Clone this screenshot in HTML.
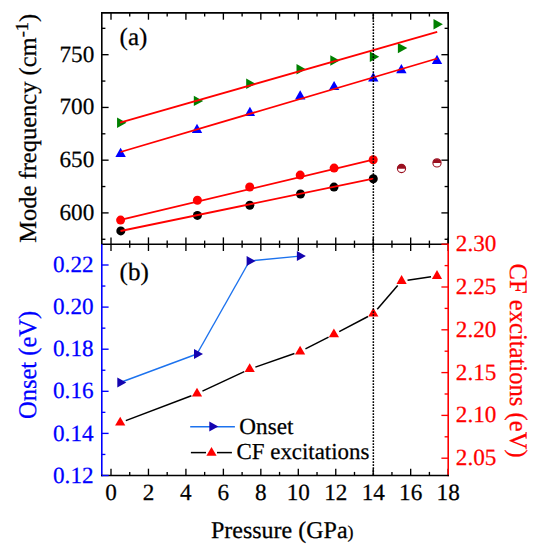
<!DOCTYPE html>
<html><head><meta charset="utf-8"><style>
html,body{margin:0;padding:0;background:#fff;}
svg{display:block;}
text{font-family:"Liberation Serif", serif; text-rendering:geometricPrecision;}
</style></head><body>
<svg width="542" height="550" viewBox="0 0 542 550">
<rect width="542" height="550" fill="#fff"/>
<line x1="111.00" y1="12.90" x2="111.00" y2="19.70" stroke="#000" stroke-width="1.35" />
<line x1="111.00" y1="244.20" x2="111.00" y2="237.40" stroke="#000" stroke-width="1.35" />
<line x1="111.00" y1="244.20" x2="111.00" y2="251.00" stroke="#000" stroke-width="1.35" />
<line x1="111.00" y1="475.50" x2="111.00" y2="468.70" stroke="#000" stroke-width="1.35" />
<line x1="129.73" y1="12.90" x2="129.73" y2="16.50" stroke="#000" stroke-width="1.35" />
<line x1="129.73" y1="244.20" x2="129.73" y2="240.60" stroke="#000" stroke-width="1.35" />
<line x1="129.73" y1="244.20" x2="129.73" y2="247.80" stroke="#000" stroke-width="1.35" />
<line x1="129.73" y1="475.50" x2="129.73" y2="471.90" stroke="#000" stroke-width="1.35" />
<line x1="148.46" y1="12.90" x2="148.46" y2="19.70" stroke="#000" stroke-width="1.35" />
<line x1="148.46" y1="244.20" x2="148.46" y2="237.40" stroke="#000" stroke-width="1.35" />
<line x1="148.46" y1="244.20" x2="148.46" y2="251.00" stroke="#000" stroke-width="1.35" />
<line x1="148.46" y1="475.50" x2="148.46" y2="468.70" stroke="#000" stroke-width="1.35" />
<line x1="167.19" y1="12.90" x2="167.19" y2="16.50" stroke="#000" stroke-width="1.35" />
<line x1="167.19" y1="244.20" x2="167.19" y2="240.60" stroke="#000" stroke-width="1.35" />
<line x1="167.19" y1="244.20" x2="167.19" y2="247.80" stroke="#000" stroke-width="1.35" />
<line x1="167.19" y1="475.50" x2="167.19" y2="471.90" stroke="#000" stroke-width="1.35" />
<line x1="185.92" y1="12.90" x2="185.92" y2="19.70" stroke="#000" stroke-width="1.35" />
<line x1="185.92" y1="244.20" x2="185.92" y2="237.40" stroke="#000" stroke-width="1.35" />
<line x1="185.92" y1="244.20" x2="185.92" y2="251.00" stroke="#000" stroke-width="1.35" />
<line x1="185.92" y1="475.50" x2="185.92" y2="468.70" stroke="#000" stroke-width="1.35" />
<line x1="204.65" y1="12.90" x2="204.65" y2="16.50" stroke="#000" stroke-width="1.35" />
<line x1="204.65" y1="244.20" x2="204.65" y2="240.60" stroke="#000" stroke-width="1.35" />
<line x1="204.65" y1="244.20" x2="204.65" y2="247.80" stroke="#000" stroke-width="1.35" />
<line x1="204.65" y1="475.50" x2="204.65" y2="471.90" stroke="#000" stroke-width="1.35" />
<line x1="223.38" y1="12.90" x2="223.38" y2="19.70" stroke="#000" stroke-width="1.35" />
<line x1="223.38" y1="244.20" x2="223.38" y2="237.40" stroke="#000" stroke-width="1.35" />
<line x1="223.38" y1="244.20" x2="223.38" y2="251.00" stroke="#000" stroke-width="1.35" />
<line x1="223.38" y1="475.50" x2="223.38" y2="468.70" stroke="#000" stroke-width="1.35" />
<line x1="242.11" y1="12.90" x2="242.11" y2="16.50" stroke="#000" stroke-width="1.35" />
<line x1="242.11" y1="244.20" x2="242.11" y2="240.60" stroke="#000" stroke-width="1.35" />
<line x1="242.11" y1="244.20" x2="242.11" y2="247.80" stroke="#000" stroke-width="1.35" />
<line x1="242.11" y1="475.50" x2="242.11" y2="471.90" stroke="#000" stroke-width="1.35" />
<line x1="260.84" y1="12.90" x2="260.84" y2="19.70" stroke="#000" stroke-width="1.35" />
<line x1="260.84" y1="244.20" x2="260.84" y2="237.40" stroke="#000" stroke-width="1.35" />
<line x1="260.84" y1="244.20" x2="260.84" y2="251.00" stroke="#000" stroke-width="1.35" />
<line x1="260.84" y1="475.50" x2="260.84" y2="468.70" stroke="#000" stroke-width="1.35" />
<line x1="279.57" y1="12.90" x2="279.57" y2="16.50" stroke="#000" stroke-width="1.35" />
<line x1="279.57" y1="244.20" x2="279.57" y2="240.60" stroke="#000" stroke-width="1.35" />
<line x1="279.57" y1="244.20" x2="279.57" y2="247.80" stroke="#000" stroke-width="1.35" />
<line x1="279.57" y1="475.50" x2="279.57" y2="471.90" stroke="#000" stroke-width="1.35" />
<line x1="298.30" y1="12.90" x2="298.30" y2="19.70" stroke="#000" stroke-width="1.35" />
<line x1="298.30" y1="244.20" x2="298.30" y2="237.40" stroke="#000" stroke-width="1.35" />
<line x1="298.30" y1="244.20" x2="298.30" y2="251.00" stroke="#000" stroke-width="1.35" />
<line x1="298.30" y1="475.50" x2="298.30" y2="468.70" stroke="#000" stroke-width="1.35" />
<line x1="317.03" y1="12.90" x2="317.03" y2="16.50" stroke="#000" stroke-width="1.35" />
<line x1="317.03" y1="244.20" x2="317.03" y2="240.60" stroke="#000" stroke-width="1.35" />
<line x1="317.03" y1="244.20" x2="317.03" y2="247.80" stroke="#000" stroke-width="1.35" />
<line x1="317.03" y1="475.50" x2="317.03" y2="471.90" stroke="#000" stroke-width="1.35" />
<line x1="335.76" y1="12.90" x2="335.76" y2="19.70" stroke="#000" stroke-width="1.35" />
<line x1="335.76" y1="244.20" x2="335.76" y2="237.40" stroke="#000" stroke-width="1.35" />
<line x1="335.76" y1="244.20" x2="335.76" y2="251.00" stroke="#000" stroke-width="1.35" />
<line x1="335.76" y1="475.50" x2="335.76" y2="468.70" stroke="#000" stroke-width="1.35" />
<line x1="354.49" y1="12.90" x2="354.49" y2="16.50" stroke="#000" stroke-width="1.35" />
<line x1="354.49" y1="244.20" x2="354.49" y2="240.60" stroke="#000" stroke-width="1.35" />
<line x1="354.49" y1="244.20" x2="354.49" y2="247.80" stroke="#000" stroke-width="1.35" />
<line x1="354.49" y1="475.50" x2="354.49" y2="471.90" stroke="#000" stroke-width="1.35" />
<line x1="373.22" y1="12.90" x2="373.22" y2="19.70" stroke="#000" stroke-width="1.35" />
<line x1="373.22" y1="244.20" x2="373.22" y2="237.40" stroke="#000" stroke-width="1.35" />
<line x1="373.22" y1="244.20" x2="373.22" y2="251.00" stroke="#000" stroke-width="1.35" />
<line x1="373.22" y1="475.50" x2="373.22" y2="468.70" stroke="#000" stroke-width="1.35" />
<line x1="391.95" y1="12.90" x2="391.95" y2="16.50" stroke="#000" stroke-width="1.35" />
<line x1="391.95" y1="244.20" x2="391.95" y2="240.60" stroke="#000" stroke-width="1.35" />
<line x1="391.95" y1="244.20" x2="391.95" y2="247.80" stroke="#000" stroke-width="1.35" />
<line x1="391.95" y1="475.50" x2="391.95" y2="471.90" stroke="#000" stroke-width="1.35" />
<line x1="410.68" y1="12.90" x2="410.68" y2="19.70" stroke="#000" stroke-width="1.35" />
<line x1="410.68" y1="244.20" x2="410.68" y2="237.40" stroke="#000" stroke-width="1.35" />
<line x1="410.68" y1="244.20" x2="410.68" y2="251.00" stroke="#000" stroke-width="1.35" />
<line x1="410.68" y1="475.50" x2="410.68" y2="468.70" stroke="#000" stroke-width="1.35" />
<line x1="429.41" y1="12.90" x2="429.41" y2="16.50" stroke="#000" stroke-width="1.35" />
<line x1="429.41" y1="244.20" x2="429.41" y2="240.60" stroke="#000" stroke-width="1.35" />
<line x1="429.41" y1="244.20" x2="429.41" y2="247.80" stroke="#000" stroke-width="1.35" />
<line x1="429.41" y1="475.50" x2="429.41" y2="471.90" stroke="#000" stroke-width="1.35" />
<line x1="448.14" y1="12.90" x2="448.14" y2="19.70" stroke="#000" stroke-width="1.35" />
<line x1="448.14" y1="244.20" x2="448.14" y2="237.40" stroke="#000" stroke-width="1.35" />
<line x1="448.14" y1="244.20" x2="448.14" y2="251.00" stroke="#000" stroke-width="1.35" />
<line x1="448.14" y1="475.50" x2="448.14" y2="468.70" stroke="#000" stroke-width="1.35" />
<line x1="101.80" y1="239.27" x2="105.40" y2="239.27" stroke="#000" stroke-width="1.35" />
<line x1="448.20" y1="239.27" x2="444.60" y2="239.27" stroke="#000" stroke-width="1.35" />
<line x1="101.80" y1="212.90" x2="108.60" y2="212.90" stroke="#000" stroke-width="1.35" />
<line x1="448.20" y1="212.90" x2="441.40" y2="212.90" stroke="#000" stroke-width="1.35" />
<line x1="101.80" y1="186.54" x2="105.40" y2="186.54" stroke="#000" stroke-width="1.35" />
<line x1="448.20" y1="186.54" x2="444.60" y2="186.54" stroke="#000" stroke-width="1.35" />
<line x1="101.80" y1="160.17" x2="108.60" y2="160.17" stroke="#000" stroke-width="1.35" />
<line x1="448.20" y1="160.17" x2="441.40" y2="160.17" stroke="#000" stroke-width="1.35" />
<line x1="101.80" y1="133.80" x2="105.40" y2="133.80" stroke="#000" stroke-width="1.35" />
<line x1="448.20" y1="133.80" x2="444.60" y2="133.80" stroke="#000" stroke-width="1.35" />
<line x1="101.80" y1="107.44" x2="108.60" y2="107.44" stroke="#000" stroke-width="1.35" />
<line x1="448.20" y1="107.44" x2="441.40" y2="107.44" stroke="#000" stroke-width="1.35" />
<line x1="101.80" y1="81.07" x2="105.40" y2="81.07" stroke="#000" stroke-width="1.35" />
<line x1="448.20" y1="81.07" x2="444.60" y2="81.07" stroke="#000" stroke-width="1.35" />
<line x1="101.80" y1="54.70" x2="108.60" y2="54.70" stroke="#000" stroke-width="1.35" />
<line x1="448.20" y1="54.70" x2="441.40" y2="54.70" stroke="#000" stroke-width="1.35" />
<line x1="101.80" y1="28.33" x2="105.40" y2="28.33" stroke="#000" stroke-width="1.35" />
<line x1="448.20" y1="28.33" x2="444.60" y2="28.33" stroke="#000" stroke-width="1.35" />
<line x1="101.00" y1="12.90" x2="449.00" y2="12.90" stroke="#000" stroke-width="1.6" />
<line x1="101.80" y1="12.90" x2="101.80" y2="244.20" stroke="#000" stroke-width="1.6" />
<line x1="448.20" y1="12.90" x2="448.20" y2="244.20" stroke="#000" stroke-width="1.6" />
<line x1="101.00" y1="244.20" x2="449.00" y2="244.20" stroke="#000" stroke-width="1.6" />
<line x1="101.80" y1="244.20" x2="101.80" y2="476.30" stroke="#0000ff" stroke-width="1.6" />
<line x1="448.20" y1="243.40" x2="448.20" y2="476.30" stroke="#ff0000" stroke-width="1.6" />
<line x1="101.00" y1="475.50" x2="449.00" y2="475.50" stroke="#000" stroke-width="1.6" />
<line x1="101.80" y1="475.50" x2="108.60" y2="475.50" stroke="#0000ff" stroke-width="1.35" />
<line x1="101.80" y1="454.45" x2="105.40" y2="454.45" stroke="#0000ff" stroke-width="1.35" />
<line x1="101.80" y1="433.40" x2="108.60" y2="433.40" stroke="#0000ff" stroke-width="1.35" />
<line x1="101.80" y1="412.35" x2="105.40" y2="412.35" stroke="#0000ff" stroke-width="1.35" />
<line x1="101.80" y1="391.30" x2="108.60" y2="391.30" stroke="#0000ff" stroke-width="1.35" />
<line x1="101.80" y1="370.25" x2="105.40" y2="370.25" stroke="#0000ff" stroke-width="1.35" />
<line x1="101.80" y1="349.20" x2="108.60" y2="349.20" stroke="#0000ff" stroke-width="1.35" />
<line x1="101.80" y1="328.15" x2="105.40" y2="328.15" stroke="#0000ff" stroke-width="1.35" />
<line x1="101.80" y1="307.10" x2="108.60" y2="307.10" stroke="#0000ff" stroke-width="1.35" />
<line x1="101.80" y1="286.05" x2="105.40" y2="286.05" stroke="#0000ff" stroke-width="1.35" />
<line x1="101.80" y1="265.00" x2="108.60" y2="265.00" stroke="#0000ff" stroke-width="1.35" />
<line x1="448.20" y1="458.20" x2="441.40" y2="458.20" stroke="#ff0000" stroke-width="1.35" />
<line x1="448.20" y1="436.80" x2="444.60" y2="436.80" stroke="#ff0000" stroke-width="1.35" />
<line x1="448.20" y1="415.40" x2="441.40" y2="415.40" stroke="#ff0000" stroke-width="1.35" />
<line x1="448.20" y1="394.00" x2="444.60" y2="394.00" stroke="#ff0000" stroke-width="1.35" />
<line x1="448.20" y1="372.60" x2="441.40" y2="372.60" stroke="#ff0000" stroke-width="1.35" />
<line x1="448.20" y1="351.20" x2="444.60" y2="351.20" stroke="#ff0000" stroke-width="1.35" />
<line x1="448.20" y1="329.80" x2="441.40" y2="329.80" stroke="#ff0000" stroke-width="1.35" />
<line x1="448.20" y1="308.40" x2="444.60" y2="308.40" stroke="#ff0000" stroke-width="1.35" />
<line x1="448.20" y1="287.00" x2="441.40" y2="287.00" stroke="#ff0000" stroke-width="1.35" />
<line x1="448.20" y1="265.60" x2="444.60" y2="265.60" stroke="#ff0000" stroke-width="1.35" />
<line x1="448.20" y1="244.20" x2="441.40" y2="244.20" stroke="#ff0000" stroke-width="1.35" />
<polygon points="117.05,117.60 126.45,122.80 117.05,128.00" fill="#008000"/>
<polygon points="193.80,95.70 203.20,100.90 193.80,106.10" fill="#008000"/>
<polygon points="246.20,78.60 255.60,83.80 246.20,89.00" fill="#008000"/>
<polygon points="296.50,64.00 305.90,69.20 296.50,74.40" fill="#008000"/>
<polygon points="330.30,55.30 339.70,60.50 330.30,65.70" fill="#008000"/>
<polygon points="369.80,51.50 379.20,56.70 369.80,61.90" fill="#008000"/>
<polygon points="397.90,42.90 407.30,48.10 397.90,53.30" fill="#008000"/>
<polygon points="433.50,19.10 442.90,24.30 433.50,29.50" fill="#008000"/>
<polygon points="115.40,157.00 120.60,147.80 125.80,157.00" fill="#0000ff"/>
<polygon points="191.80,132.90 197.00,123.70 202.20,132.90" fill="#0000ff"/>
<polygon points="244.70,115.90 249.90,106.70 255.10,115.90" fill="#0000ff"/>
<polygon points="295.00,99.50 300.20,90.30 305.40,99.50" fill="#0000ff"/>
<polygon points="328.90,90.10 334.10,80.90 339.30,90.10" fill="#0000ff"/>
<polygon points="368.10,81.40 373.30,72.20 378.50,81.40" fill="#0000ff"/>
<polygon points="396.20,73.20 401.40,64.00 406.60,73.20" fill="#0000ff"/>
<polygon points="431.80,64.00 437.00,54.80 442.20,64.00" fill="#0000ff"/>
<circle cx="120.60" cy="220.10" r="4.5" fill="#ff0000"/>
<circle cx="197.40" cy="200.30" r="4.5" fill="#ff0000"/>
<circle cx="249.70" cy="187.00" r="4.5" fill="#ff0000"/>
<circle cx="300.20" cy="175.10" r="4.5" fill="#ff0000"/>
<circle cx="334.10" cy="168.10" r="4.5" fill="#ff0000"/>
<circle cx="373.20" cy="159.70" r="4.5" fill="#ff0000"/>
<circle cx="120.80" cy="230.90" r="4.5" fill="#000"/>
<circle cx="197.40" cy="215.40" r="4.5" fill="#000"/>
<circle cx="249.80" cy="205.20" r="4.5" fill="#000"/>
<circle cx="300.50" cy="194.00" r="4.5" fill="#000"/>
<circle cx="334.00" cy="187.10" r="4.5" fill="#000"/>
<circle cx="373.30" cy="178.70" r="4.5" fill="#000"/>
<circle cx="401.5" cy="168.5" r="4.1" fill="#fff" stroke="#9a1020" stroke-width="1.1"/>
<path d="M397.40,168.70 A4.1,4.1 0 0 1 405.60,168.70 Z" fill="#9a1020"/>
<circle cx="437" cy="162.9" r="4.1" fill="#fff" stroke="#9a1020" stroke-width="1.1"/>
<path d="M432.90,163.10 A4.1,4.1 0 0 1 441.10,163.10 Z" fill="#9a1020"/>
<line x1="120.00" y1="122.70" x2="437.20" y2="31.80" stroke="#ff0000" stroke-width="1.8" />
<line x1="120.50" y1="152.00" x2="437.20" y2="58.50" stroke="#ff0000" stroke-width="1.8" />
<line x1="120.50" y1="219.90" x2="373.30" y2="159.60" stroke="#ff0000" stroke-width="1.8" />
<line x1="120.50" y1="231.00" x2="373.30" y2="178.70" stroke="#ff0000" stroke-width="1.8" />
<line x1="120.25" y1="382.50" x2="196.95" y2="354.00" stroke="#1c72ee" stroke-width="1.4" />
<line x1="196.95" y1="354.00" x2="249.55" y2="261.00" stroke="#1c72ee" stroke-width="1.4" />
<line x1="249.55" y1="261.00" x2="299.85" y2="256.10" stroke="#1c72ee" stroke-width="1.4" />
<polygon points="117.30,377.50 126.30,382.50 117.30,387.50" fill="#1404b0"/>
<polygon points="194.00,349.00 203.00,354.00 194.00,359.00" fill="#1404b0"/>
<polygon points="246.60,256.00 255.60,261.00 246.60,266.00" fill="#1404b0"/>
<polygon points="296.90,251.10 305.90,256.10 296.90,261.10" fill="#1404b0"/>
<line x1="125.81" y1="420.58" x2="191.39" y2="395.82" stroke="#000" stroke-width="1.5" />
<line x1="202.44" y1="391.16" x2="244.26" y2="371.64" stroke="#000" stroke-width="1.5" />
<line x1="255.37" y1="367.13" x2="294.43" y2="353.57" stroke="#000" stroke-width="1.5" />
<line x1="305.45" y1="348.88" x2="328.55" y2="337.12" stroke="#000" stroke-width="1.5" />
<line x1="339.21" y1="331.61" x2="367.99" y2="316.49" stroke="#000" stroke-width="1.5" />
<line x1="377.23" y1="309.16" x2="397.67" y2="285.54" stroke="#000" stroke-width="1.5" />
<line x1="407.54" y1="280.16" x2="431.06" y2="276.84" stroke="#000" stroke-width="1.5" />
<polygon points="115.10,425.60 120.20,416.80 125.30,425.60" fill="#ff0000"/>
<polygon points="191.90,396.60 197.00,387.80 202.10,396.60" fill="#ff0000"/>
<polygon points="244.60,372.00 249.70,363.20 254.80,372.00" fill="#ff0000"/>
<polygon points="295.00,354.50 300.10,345.70 305.20,354.50" fill="#ff0000"/>
<polygon points="328.80,337.30 333.90,328.50 339.00,337.30" fill="#ff0000"/>
<polygon points="368.20,316.60 373.30,307.80 378.40,316.60" fill="#ff0000"/>
<polygon points="396.50,283.90 401.60,275.10 406.70,283.90" fill="#ff0000"/>
<polygon points="431.90,278.90 437.00,270.10 442.10,278.90" fill="#ff0000"/>
<line x1="373.35" y1="12.90" x2="373.35" y2="475.50" stroke="#000" stroke-width="1.5" stroke-dasharray="1.8 1.2" stroke-dashoffset="1.7"/>
<line x1="190.20" y1="426.70" x2="234.90" y2="426.70" stroke="#1c72ee" stroke-width="1.4" />
<polygon points="209.30,421.60 218.30,426.60 209.30,431.60" fill="#1404b0"/>
<line x1="190.90" y1="452.60" x2="206.00" y2="452.60" stroke="#000" stroke-width="1.5" />
<line x1="217.00" y1="452.60" x2="231.90" y2="452.60" stroke="#000" stroke-width="1.5" />
<polygon points="206.40,455.80 211.50,447.00 216.60,455.80" fill="#ff0000"/>
<text transform="translate(94.30,219.90) scale(1,1.0)" font-size="23.2" fill="#000" stroke="#000" stroke-width="0.25" text-anchor="end" >600</text>
<text transform="translate(94.30,167.17) scale(1,1.0)" font-size="23.2" fill="#000" stroke="#000" stroke-width="0.25" text-anchor="end" >650</text>
<text transform="translate(94.30,114.44) scale(1,1.0)" font-size="23.2" fill="#000" stroke="#000" stroke-width="0.25" text-anchor="end" >700</text>
<text transform="translate(94.30,61.70) scale(1,1.0)" font-size="23.2" fill="#000" stroke="#000" stroke-width="0.25" text-anchor="end" >750</text>
<text transform="translate(93.60,482.60) scale(1,1.0)" font-size="23.2" fill="#0000ff" stroke="#0000ff" stroke-width="0.25" text-anchor="end" >0.12</text>
<text transform="translate(93.60,440.50) scale(1,1.0)" font-size="23.2" fill="#0000ff" stroke="#0000ff" stroke-width="0.25" text-anchor="end" >0.14</text>
<text transform="translate(93.60,398.40) scale(1,1.0)" font-size="23.2" fill="#0000ff" stroke="#0000ff" stroke-width="0.25" text-anchor="end" >0.16</text>
<text transform="translate(93.60,356.30) scale(1,1.0)" font-size="23.2" fill="#0000ff" stroke="#0000ff" stroke-width="0.25" text-anchor="end" >0.18</text>
<text transform="translate(93.60,314.20) scale(1,1.0)" font-size="23.2" fill="#0000ff" stroke="#0000ff" stroke-width="0.25" text-anchor="end" >0.20</text>
<text transform="translate(93.60,272.10) scale(1,1.0)" font-size="23.2" fill="#0000ff" stroke="#0000ff" stroke-width="0.25" text-anchor="end" >0.22</text>
<text transform="translate(455.80,465.10) scale(1,1.0)" font-size="23.2" fill="#ff0000" stroke="#ff0000" stroke-width="0.25" text-anchor="start" >2.05</text>
<text transform="translate(455.80,422.30) scale(1,1.0)" font-size="23.2" fill="#ff0000" stroke="#ff0000" stroke-width="0.25" text-anchor="start" >2.10</text>
<text transform="translate(455.80,379.50) scale(1,1.0)" font-size="23.2" fill="#ff0000" stroke="#ff0000" stroke-width="0.25" text-anchor="start" >2.15</text>
<text transform="translate(455.80,336.70) scale(1,1.0)" font-size="23.2" fill="#ff0000" stroke="#ff0000" stroke-width="0.25" text-anchor="start" >2.20</text>
<text transform="translate(455.80,293.90) scale(1,1.0)" font-size="23.2" fill="#ff0000" stroke="#ff0000" stroke-width="0.25" text-anchor="start" >2.25</text>
<text transform="translate(455.80,251.10) scale(1,1.0)" font-size="23.2" fill="#ff0000" stroke="#ff0000" stroke-width="0.25" text-anchor="start" >2.30</text>
<text transform="translate(111.00,500.20) scale(1,1.0)" font-size="23.2" fill="#000" stroke="#000" stroke-width="0.25" text-anchor="middle" >0</text>
<text transform="translate(148.46,500.20) scale(1,1.0)" font-size="23.2" fill="#000" stroke="#000" stroke-width="0.25" text-anchor="middle" >2</text>
<text transform="translate(185.92,500.20) scale(1,1.0)" font-size="23.2" fill="#000" stroke="#000" stroke-width="0.25" text-anchor="middle" >4</text>
<text transform="translate(223.38,500.20) scale(1,1.0)" font-size="23.2" fill="#000" stroke="#000" stroke-width="0.25" text-anchor="middle" >6</text>
<text transform="translate(260.84,500.20) scale(1,1.0)" font-size="23.2" fill="#000" stroke="#000" stroke-width="0.25" text-anchor="middle" >8</text>
<text transform="translate(298.30,500.20) scale(1,1.0)" font-size="23.2" fill="#000" stroke="#000" stroke-width="0.25" text-anchor="middle" >10</text>
<text transform="translate(335.76,500.20) scale(1,1.0)" font-size="23.2" fill="#000" stroke="#000" stroke-width="0.25" text-anchor="middle" >12</text>
<text transform="translate(373.22,500.20) scale(1,1.0)" font-size="23.2" fill="#000" stroke="#000" stroke-width="0.25" text-anchor="middle" >14</text>
<text transform="translate(410.68,500.20) scale(1,1.0)" font-size="23.2" fill="#000" stroke="#000" stroke-width="0.25" text-anchor="middle" >16</text>
<text transform="translate(448.14,500.20) scale(1,1.0)" font-size="23.2" fill="#000" stroke="#000" stroke-width="0.25" text-anchor="middle" >18</text>
<text transform="translate(119.60,44.60) scale(1,1.0)" font-size="25" fill="#000" stroke="#000" stroke-width="0.25" text-anchor="start" >(a)</text>
<text transform="translate(119.60,279.80) scale(1,1.0)" font-size="25" fill="#000" stroke="#000" stroke-width="0.25" text-anchor="start" >(b)</text>
<text transform="translate(239.30,434.20) scale(1,1.0)" font-size="23.2" fill="#000" stroke="#000" stroke-width="0.25" text-anchor="start" >Onset</text>
<text transform="translate(236.50,459.30) scale(1,1.0)" font-size="22.9" fill="#000" stroke="#000" stroke-width="0.25" text-anchor="start" >CF excitations</text>
<text transform="translate(210.9,537.9) scale(1,1.0)" font-size="24" fill="#000" stroke="#000" stroke-width="0.25">Pressure (GPa<tspan font-size="18">)</tspan></text>
<text transform="translate(35.6,242.8) rotate(-90)" font-size="24.5" fill="#000" stroke="#000" stroke-width="0.25">Mode frequency (cm<tspan font-size="18.5" dy="-8">-1</tspan><tspan dy="8">)</tspan></text>
<text transform="translate(35.8,419) rotate(-90) scale(1,1.04)" font-size="24.5" fill="#0000ff" stroke="#0000ff" stroke-width="0.25">Onset (eV)</text>
<text transform="translate(510.2,263.6) rotate(90) scale(1,1.03)" font-size="24.6" fill="#ff0000" stroke="#ff0000" stroke-width="0.25">CF excitations (eV)</text>
</svg>
</body></html>
